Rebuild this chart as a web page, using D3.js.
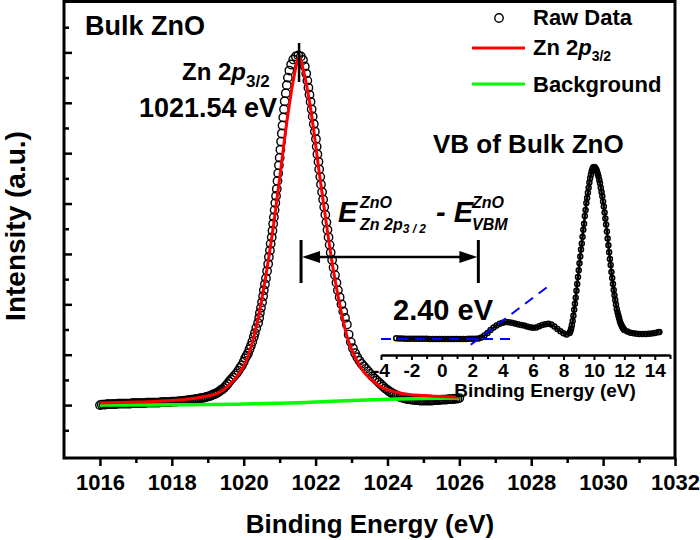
<!DOCTYPE html>
<html>
<head>
<meta charset="utf-8">
<script src="https://cdn.jsdelivr.net/npm/d3@7"></script>
<style>
  body { margin: 0; background: #fff; }
  text { font-family: Arial, "Liberation Sans", sans-serif; font-weight: bold; fill: #000; }
</style>
</head>
<body>
<svg id="chart" width="700" height="540"></svg>
<script>
// Zn 2p3/2 raw data [binding energy (eV), intensity (a.u.)]
const rawZn = [
  [1016.00,0.00],[1016.05,0.01],[1016.10,0.01],[1016.15,0.01],[1016.20,0.02],[1016.25,0.02],[1016.30,0.02],[1016.35,0.02],
  [1016.40,0.02],[1016.45,0.02],[1016.50,0.03],[1016.55,0.03],[1016.60,0.03],[1016.65,0.03],[1016.70,0.03],[1016.75,0.03],
  [1016.80,0.03],[1016.85,0.03],[1016.90,0.04],[1016.95,0.04],[1017.00,0.04],[1017.05,0.04],[1017.10,0.04],[1017.15,0.04],
  [1017.20,0.04],[1017.25,0.04],[1017.30,0.05],[1017.35,0.05],[1017.40,0.05],[1017.45,0.05],[1017.50,0.05],[1017.55,0.05],
  [1017.60,0.05],[1017.65,0.05],[1017.70,0.06],[1017.75,0.06],[1017.80,0.06],[1017.85,0.06],[1017.90,0.06],[1017.95,0.06],
  [1018.00,0.07],[1018.05,0.07],[1018.10,0.07],[1018.15,0.07],[1018.20,0.08],[1018.25,0.08],[1018.30,0.08],[1018.35,0.09],
  [1018.40,0.09],[1018.45,0.10],[1018.50,0.10],[1018.55,0.11],[1018.60,0.11],[1018.65,0.12],[1018.70,0.12],[1018.75,0.13],
  [1018.80,0.14],[1018.85,0.14],[1018.90,0.15],[1018.95,0.16],[1019.00,0.17],[1019.05,0.18],[1019.10,0.19],[1019.15,0.21],
  [1019.20,0.22],[1019.25,0.24],[1019.30,0.26],[1019.35,0.29],[1019.40,0.31],[1019.45,0.34],[1019.50,0.38],[1019.55,0.42],
  [1019.60,0.47],[1019.65,0.51],[1019.70,0.55],[1019.75,0.59],[1019.80,0.63],[1019.85,0.68],[1019.90,0.74],[1019.95,0.79],
  [1020.00,0.86],[1020.04,0.93],[1020.08,0.98],[1020.12,1.03],[1020.16,1.11],[1020.20,1.18],[1020.24,1.26],[1020.28,1.35],
  [1020.31,1.43],[1020.35,1.53],[1020.40,1.63],[1020.43,1.73],[1020.45,1.83],[1020.48,1.93],[1020.51,2.04],[1020.54,2.16],
  [1020.56,2.28],[1020.59,2.40],[1020.62,2.52],[1020.65,2.66],[1020.68,2.80],[1020.70,2.94],[1020.73,3.07],[1020.75,3.20],
  [1020.78,3.33],[1020.80,3.46],[1020.82,3.60],[1020.84,3.73],[1020.86,3.87],[1020.88,4.01],[1020.90,4.15],[1020.92,4.29],
  [1020.94,4.45],[1020.96,4.60],[1020.98,4.76],[1021.00,4.91],[1021.02,5.07],[1021.04,5.23],[1021.06,5.39],[1021.08,5.55],
  [1021.10,5.71],[1021.12,5.87],[1021.14,6.03],[1021.17,6.19],[1021.20,6.35],[1021.23,6.50],[1021.27,6.64],[1021.32,6.76],
  [1021.38,6.86],[1021.45,6.92],[1021.52,6.94],[1021.59,6.92],[1021.65,6.85],[1021.70,6.72],[1021.74,6.58],[1021.77,6.44],
  [1021.80,6.30],[1021.83,6.16],[1021.86,6.02],[1021.89,5.87],[1021.92,5.73],[1021.95,5.58],[1021.98,5.43],[1022.01,5.28],
  [1022.03,5.13],[1022.05,4.98],[1022.08,4.83],[1022.10,4.68],[1022.13,4.53],[1022.15,4.38],[1022.18,4.23],[1022.21,4.08],
  [1022.24,3.93],[1022.27,3.78],[1022.30,3.63],[1022.33,3.48],[1022.36,3.33],[1022.39,3.18],[1022.42,3.03],[1022.46,2.88],
  [1022.50,2.73],[1022.54,2.58],[1022.58,2.43],[1022.62,2.28],[1022.67,2.14],[1022.72,2.00],[1022.77,1.86],[1022.82,1.73],
  [1022.87,1.60],[1022.92,1.40],[1022.98,1.25],[1023.04,1.13],[1023.10,1.03],[1023.16,0.95],[1023.22,0.88],[1023.28,0.82],
  [1023.34,0.77],[1023.40,0.72],[1023.46,0.67],[1023.52,0.62],[1023.58,0.57],[1023.64,0.53],[1023.70,0.49],[1023.76,0.45],
  [1023.82,0.41],[1023.88,0.37],[1023.94,0.33],[1024.00,0.30],[1024.05,0.27],[1024.10,0.25],[1024.15,0.22],[1024.20,0.21],
  [1024.25,0.19],[1024.30,0.18],[1024.35,0.16],[1024.40,0.15],[1024.45,0.14],[1024.50,0.13],[1024.55,0.12],[1024.60,0.12],
  [1024.65,0.11],[1024.70,0.11],[1024.75,0.10],[1024.80,0.10],[1024.85,0.10],[1024.90,0.09],[1024.95,0.09],[1025.00,0.09],
  [1025.05,0.09],[1025.10,0.09],[1025.15,0.09],[1025.20,0.09],[1025.25,0.09],[1025.30,0.10],[1025.35,0.10],[1025.40,0.10],
  [1025.45,0.10],[1025.50,0.11],[1025.55,0.11],[1025.60,0.11],[1025.65,0.11],[1025.70,0.12],[1025.75,0.12],[1025.80,0.12],
  [1025.85,0.12],[1025.90,0.13],[1025.95,0.13],[1026.00,0.14]
];

// Zn 2p3/2 fitted peak
const fitZn = [
  [1016.0,0.04],[1016.5,0.05],[1017.0,0.06],[1017.5,0.07],[1018.0,0.09],[1018.5,0.12],[1019.0,0.18],[1019.3,0.24],
  [1019.6,0.40],[1019.8,0.56],[1020.0,0.77],[1020.2,1.15],[1020.4,1.72],[1020.6,2.50],[1020.8,3.42],[1021.0,4.50],
  [1021.2,5.62],[1021.4,6.52],[1021.54,6.90],[1021.7,6.52],[1021.9,5.70],[1022.1,4.62],[1022.3,3.60],[1022.5,2.65],
  [1022.7,1.90],[1022.9,1.30],[1023.1,0.95],[1023.3,0.70],[1023.5,0.54],[1023.7,0.42],[1023.9,0.33],[1024.2,0.26],
  [1024.6,0.21],[1025.0,0.19],[1025.5,0.17],[1026.0,0.16]
];

// Shirley-type background
const backgroundZn = [
  [1016,0.00],[1017,0.00],[1018,0.005],[1019,0.01],[1020,0.02],[1021,0.035],[1022,0.06],[1023,0.09],
  [1024,0.115],[1025,0.13],[1026,0.14]
];

// valence band spectrum (inset) [binding energy (eV), normalised intensity]
const vbData = [
  [-3.0,0.004],[-2.8,0.003],[-2.6,0.003],[-2.4,0.002],[-2.2,0.002],[-2.0,0.002],[-1.8,0.001],[-1.6,0.001],
  [-1.4,0.001],[-1.2,0.001],[-1.0,0.001],[-0.8,0.000],[-0.6,0.000],[-0.4,0.000],[-0.2,0.000],[0.0,0.000],
  [0.2,0.000],[0.4,0.000],[0.6,0.000],[0.8,0.000],[1.0,0.000],[1.2,0.000],[1.4,0.000],[1.6,0.000],
  [1.8,0.001],[2.0,0.001],[2.2,0.002],[2.4,0.003],[2.6,0.008],[2.8,0.020],[3.0,0.035],[3.2,0.052],
  [3.4,0.067],[3.6,0.079],[3.8,0.088],[4.0,0.095],[4.2,0.099],[4.4,0.098],[4.6,0.094],[4.8,0.090],
  [5.0,0.086],[5.2,0.082],[5.4,0.078],[5.6,0.073],[5.8,0.068],[6.0,0.065],[6.2,0.067],[6.4,0.074],
  [6.6,0.081],[6.8,0.086],[7.0,0.088],[7.2,0.084],[7.4,0.073],[7.6,0.058],[7.8,0.045],[8.0,0.034],
  [8.2,0.026],[8.4,0.035],[8.45,0.045],[8.50,0.060],[8.55,0.080],[8.60,0.105],[8.65,0.135],[8.70,0.170],
  [8.75,0.205],[8.80,0.240],[8.85,0.280],[8.90,0.320],[8.95,0.360],[9.00,0.400],[9.05,0.440],[9.10,0.480],
  [9.15,0.520],[9.20,0.555],[9.25,0.595],[9.30,0.635],[9.35,0.670],[9.40,0.715],[9.45,0.750],[9.50,0.790],
  [9.55,0.820],[9.60,0.850],[9.65,0.880],[9.70,0.910],[9.75,0.935],[9.80,0.955],[9.85,0.975],[9.90,0.988],
  [9.95,0.997],[10.00,1.000],[10.05,0.998],[10.10,0.993],[10.15,0.985],[10.20,0.975],[10.25,0.960],[10.30,0.945],
  [10.35,0.925],[10.40,0.905],[10.45,0.880],[10.50,0.855],[10.55,0.830],[10.60,0.800],[10.65,0.770],[10.70,0.735],
  [10.75,0.700],[10.80,0.665],[10.85,0.625],[10.90,0.585],[10.95,0.545],[11.00,0.505],[11.05,0.465],[11.10,0.430],
  [11.15,0.390],[11.20,0.355],[11.25,0.320],[11.30,0.285],[11.35,0.255],[11.40,0.227],[11.45,0.200],[11.50,0.175],
  [11.55,0.155],[11.60,0.138],[11.65,0.122],[11.70,0.105],[11.75,0.092],[11.80,0.081],[11.85,0.072],[11.90,0.064],
  [11.95,0.058],[12.00,0.052],[12.2,0.043],[12.4,0.037],[12.6,0.033],[12.8,0.031],[13.0,0.029],[13.2,0.029],
  [13.4,0.029],[13.6,0.030],[13.8,0.032],[14.0,0.035],[14.2,0.039],[14.3,0.041]
];

// linear extrapolation lines for the VBM
const vbmBaseline = [[-4.0, 0], [4.9, 0]];
const vbmEdge = [[1.9, -0.033], [7.1, 0.313]];

const zn2pPeak = 1021.54;
const vbmValue = 2.40;

// tick values
const xMajor = [1016, 1018, 1020, 1022, 1024, 1026, 1028, 1030, 1032];
const xMinor = [1017, 1019, 1021, 1023, 1025, 1027, 1029, 1031];
const yMajor = [0, 1, 2, 3, 4, 5, 6, 7];
const yMinor = [-0.5, 0.5, 1.5, 2.5, 3.5, 4.5, 5.5, 6.5, 7.5];
const insetMajor = [-4, -2, 0, 2, 4, 6, 8, 10, 12, 14];
const insetMinor = [-3, -1, 1, 3, 5, 7, 9, 11, 13, 15];

const svg = d3.select("#chart");

const x = d3.scaleLinear().domain([1015, 1032]).range([64, 675]);
const y = d3.scaleLinear().domain([-1.05, 8.04]).range([458, 0]);

const xIn = d3.scaleLinear().domain([-4, 15]).range([381, 670]);
const yIn = d3.scaleLinear().domain([0, 1]).range([339, 167]);

// frame
svg.append("rect")
  .attr("x", 64).attr("y", 1.5)
  .attr("width", 611).attr("height", 456.5)
  .attr("fill", "none").attr("stroke", "#000").attr("stroke-width", 3);

// x axis
svg.append("g")
  .attr("transform", "translate(0,458)")
  .call(d3.axisBottom(x).tickValues(xMajor).tickSize(8).tickPadding(8).tickFormat(d3.format("d")))
  .attr("font-size", 22)
  .call(g => g.select(".domain").remove())
  .call(g => g.selectAll("line").attr("stroke-width", 2.5));

svg.append("g")
  .attr("transform", "translate(0,458)")
  .call(d3.axisBottom(x).tickValues(xMinor).tickSize(5).tickFormat(""))
  .call(g => g.select(".domain").remove())
  .call(g => g.selectAll("line").attr("stroke-width", 2.5));

// y axis (ticks inward, no labels)
svg.append("g")
  .attr("transform", "translate(64,0)")
  .call(d3.axisRight(y).tickValues(yMajor).tickSize(8).tickFormat(""))
  .call(g => g.select(".domain").remove())
  .call(g => g.selectAll("line").attr("stroke-width", 2.5));

svg.append("g")
  .attr("transform", "translate(64,0)")
  .call(d3.axisRight(y).tickValues(yMinor).tickSize(5).tickFormat(""))
  .call(g => g.select(".domain").remove())
  .call(g => g.selectAll("line").attr("stroke-width", 2.5));

// axis titles
svg.append("text")
  .attr("x", 370).attr("y", 533)
  .attr("text-anchor", "middle")
  .attr("font-size", 26)
  .text("Binding Energy (eV)");

svg.append("text")
  .attr("transform", "translate(25,226) rotate(-90)")
  .attr("text-anchor", "middle")
  .attr("font-size", 28)
  .text("Intensity (a.u.)");

// raw data circles
svg.append("g")
  .selectAll("circle")
  .data(rawZn)
  .join("circle")
  .attr("cx", d => x(d[0]))
  .attr("cy", d => y(d[1]))
  .attr("r", 4.2)
  .attr("fill", "none")
  .attr("stroke", "#000")
  .attr("stroke-width", 1.4);

const line = d3.line()
  .x(d => x(d[0]))
  .y(d => y(d[1]))
  .curve(d3.curveCatmullRom);

svg.append("path")
  .datum(backgroundZn)
  .attr("fill", "none")
  .attr("stroke", "#00ff00")
  .attr("stroke-width", 3.5)
  .attr("d", line);

svg.append("path")
  .datum(fitZn)
  .attr("fill", "none")
  .attr("stroke", "#ff0000")
  .attr("stroke-width", 3)
  .attr("d", line);

// inset: valence band
const lineIn = d3.line()
  .x(d => xIn(d[0]))
  .y(d => yIn(d[1]))
  .curve(d3.curveMonotoneX);

svg.append("path")
  .datum(vbData)
  .attr("fill", "none")
  .attr("stroke", "#000")
  .attr("stroke-width", 2.5)
  .attr("d", lineIn);

svg.append("g")
  .selectAll("circle")
  .data(vbData)
  .join("circle")
  .attr("cx", d => xIn(d[0]))
  .attr("cy", d => yIn(d[1]))
  .attr("r", 2.5)
  .attr("fill", "none")
  .attr("stroke", "#000")
  .attr("stroke-width", 1.5);

[vbmBaseline, vbmEdge].forEach(seg => {
  svg.append("path")
    .datum(seg)
    .attr("fill", "none")
    .attr("stroke", "#0000ff")
    .attr("stroke-width", 2)
    .attr("stroke-dasharray", "10,7")
    .attr("d", d3.line().x(d => xIn(d[0])).y(d => yIn(d[1])));
});

svg.append("g")
  .attr("transform", "translate(0,355)")
  .call(d3.axisBottom(xIn).tickValues(insetMajor).tickSize(5).tickSizeOuter(0).tickPadding(4).tickFormat(d => String(d)))
  .attr("font-size", 19)
  .call(g => g.select(".domain").attr("stroke-width", 2.5))
  .call(g => g.selectAll("line").attr("stroke-width", 2));

svg.append("g")
  .attr("transform", "translate(0,355)")
  .call(d3.axisBottom(xIn).tickValues(insetMinor).tickSize(4).tickFormat(""))
  .call(g => g.select(".domain").remove())
  .call(g => g.selectAll("line").attr("stroke-width", 2));

svg.append("text")
  .attr("x", 545).attr("y", 397)
  .attr("text-anchor", "middle")
  .attr("font-size", 19)
  .text("Binding Energy (eV)");

svg.append("text")
  .attr("x", 433).attr("y", 153)
  .attr("font-size", 26)
  .text("VB of Bulk ZnO");

// annotations
svg.append("text")
  .attr("x", 85).attr("y", 35)
  .attr("font-size", 27)
  .text("Bulk ZnO");

svg.append("line")
  .attr("x1", x(zn2pPeak)).attr("x2", x(zn2pPeak))
  .attr("y1", 43).attr("y2", 82)
  .attr("stroke", "#000").attr("stroke-width", 2.5);

const peakLabel = svg.append("text")
  .attr("x", 182).attr("y", 80)
  .attr("font-size", 24);
peakLabel.append("tspan").text("Zn 2");
peakLabel.append("tspan").attr("font-style", "italic").text("p");
peakLabel.append("tspan").attr("font-size", 17).attr("dy", 7).text("3/2");

svg.append("text")
  .attr("x", 277).attr("y", 117)
  .attr("text-anchor", "end")
  .attr("font-size", 27)
  .text(zn2pPeak.toFixed(2) + " eV");

svg.append("text")
  .attr("x", 393).attr("y", 320)
  .attr("font-size", 29)
  .text(vbmValue.toFixed(2) + " eV");

// energy separation arrow
const arrowY = 257;
const xa = x(zn2pPeak) + 2;
const xb = xIn(vbmValue);
[xa, xb].forEach(xx => {
  svg.append("line")
    .attr("x1", xx).attr("x2", xx)
    .attr("y1", 240).attr("y2", 283)
    .attr("stroke", "#000").attr("stroke-width", 3);
});
svg.append("line")
  .attr("x1", xa + 10).attr("x2", xb - 10)
  .attr("y1", arrowY).attr("y2", arrowY)
  .attr("stroke", "#000").attr("stroke-width", 2.5);
svg.append("path")
  .attr("d", `M${xa + 1},${arrowY} L${xa + 19},${arrowY - 6} L${xa + 19},${arrowY + 6} Z`)
  .attr("fill", "#000");
svg.append("path")
  .attr("d", `M${xb - 1},${arrowY} L${xb - 19},${arrowY - 6} L${xb - 19},${arrowY + 6} Z`)
  .attr("fill", "#000");

// E(Zn 2p3/2) - E(VBM)
const eq = svg.append("g").attr("font-style", "italic");
eq.append("text").attr("x", 338).attr("y", 222).attr("font-size", 29).text("E");
eq.append("text").attr("x", 360).attr("y", 208).attr("font-size", 16).text("ZnO");
const sub1 = eq.append("text").attr("x", 360).attr("y", 230).attr("font-size", 16);
sub1.append("tspan").text("Zn 2p");
sub1.append("tspan").attr("font-size", 12).attr("dy", 3).text("3 / 2");
eq.append("text").attr("x", 436).attr("y", 222).attr("font-size", 29).text("- E");
eq.append("text").attr("x", 472).attr("y", 208).attr("font-size", 16).text("ZnO");
eq.append("text").attr("x", 472).attr("y", 230).attr("font-size", 16).text("VBM");

// legend
const legend = svg.append("g");
legend.append("circle")
  .attr("cx", 499).attr("cy", 18).attr("r", 4.2)
  .attr("fill", "none").attr("stroke", "#000").attr("stroke-width", 1.4);
legend.append("text").attr("x", 533).attr("y", 25).attr("font-size", 22).text("Raw Data");

legend.append("line")
  .attr("x1", 472).attr("x2", 525).attr("y1", 48).attr("y2", 48)
  .attr("stroke", "#ff0000").attr("stroke-width", 3);
const lg2 = legend.append("text").attr("x", 533).attr("y", 55).attr("font-size", 22);
lg2.append("tspan").text("Zn 2");
lg2.append("tspan").attr("font-style", "italic").text("p");
lg2.append("tspan").attr("font-size", 14).attr("dy", 6).text("3/2");

legend.append("line")
  .attr("x1", 472).attr("x2", 525).attr("y1", 84).attr("y2", 84)
  .attr("stroke", "#00ff00").attr("stroke-width", 3);
legend.append("text").attr("x", 533).attr("y", 92).attr("font-size", 22).text("Background");
</script>
</body>
</html>
